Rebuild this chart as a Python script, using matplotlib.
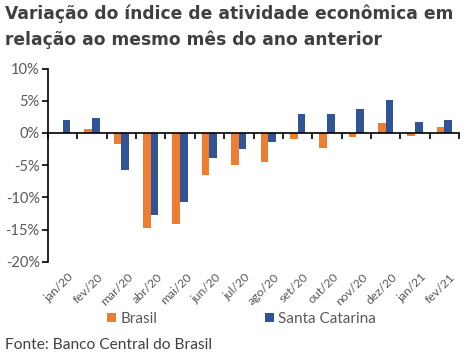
import matplotlib
matplotlib.use("Agg")
import matplotlib.pyplot as plt
from matplotlib.ticker import FuncFormatter, FixedLocator
import numpy as np

categories = ["jan/20", "fev/20", "mar/20", "abr/20", "mai/20", "jun/20", "jul/20",
              "ago/20", "set/20", "out/20", "nov/20", "dez/20", "jan/21", "fev/21"]
brasil = [0.0, 0.6, -1.7, -14.7, -14.1, -6.6, -5.0, -4.5, -0.9, -2.4, -0.6, 1.55, -0.55, 0.95]
santa_catarina = [2.0, 2.3, -5.75, -12.7, -10.8, -3.9, -2.5, -1.45, 3.0, 3.0, 3.7, 5.1, 1.75, 2.0]
yticks = [10, 5, 0, -5, -10, -15, -20]

orange = "#ED7D31"
blue = "#2F5597"
gray = "#595959"

fig = plt.figure(figsize=(4.74, 3.56), dpi=100)
ax = fig.add_axes([48/474, 1-261.7/356, (459-48)/474, (261.7-68.5)/356])

x = np.arange(len(categories))
w = 0.26
ax.bar(x - w/2, brasil, width=w, color=orange, label="Brasil", zorder=2)
ax.bar(x + w/2, santa_catarina, width=w, color=blue, label="Santa Catarina", zorder=2)

ax.set_xlim(-0.5, len(categories) - 0.5)
ax.set_ylim(-20, 10)
ax.set_yticks(yticks)
ax.yaxis.set_major_formatter(FuncFormatter(lambda v, p: f"{int(v)}%"))

for s in ["top", "right"]:
    ax.spines[s].set_visible(False)
ax.spines["left"].set_color("black")
ax.spines["left"].set_linewidth(1.2)
ax.spines["bottom"].set_position(("data", 0))
ax.spines["bottom"].set_color("black")
ax.spines["bottom"].set_linewidth(1.2)
ax.spines["bottom"].set_zorder(3)

ax.xaxis.set_major_locator(FixedLocator(np.arange(-0.5, len(categories), 1.0)))
ax.xaxis.set_major_formatter(FuncFormatter(lambda v, p: ""))
ax.tick_params(axis="x", which="major", direction="out", length=4, width=1.2, color="black")
ax.tick_params(axis="y", direction="out", length=4, width=1.2, color="black",
               labelsize=10.5, labelcolor=gray, pad=2)
for lab in ax.get_yticklabels():
    lab.set_family("Lato")

# category labels below the plot area
for i, c in enumerate(categories):
    ax.annotate(c, xy=(i, -20), xycoords="data", xytext=(4, -7), textcoords="offset points",
                rotation=45, ha="right", va="top", rotation_mode="anchor",
                fontsize=8.8, color=gray, family="Lato")

leg = fig.legend(loc="center", bbox_to_anchor=(0.51, 1-319/356), ncol=2, frameon=False,
                 handlelength=0.6, handleheight=0.6, handletextpad=0.3,
                 columnspacing=7.0, prop={"family": "Lato", "size": 11})
for t in leg.get_texts():
    t.set_color(gray)

fig.text(5/474, 1-14/356, "Variação do índice de atividade econômica em",
         fontsize=12.3, fontweight="bold", color="#404040", family="DejaVu Sans", va="center")
fig.text(5/474, 1-40/356, "relação ao mesmo mês do ano anterior",
         fontsize=12.3, fontweight="bold", color="#404040", family="DejaVu Sans", va="center")
fig.text(5/474, 1-345/356, "Fonte: Banco Central do Brasil",
         fontsize=11.2, color="#404040", family="Lato", va="center")

fig.savefig("out.png", dpi=100)
